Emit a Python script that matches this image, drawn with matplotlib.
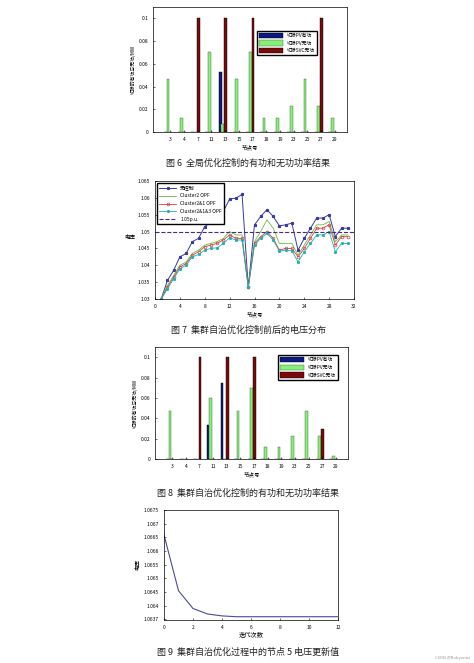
import matplotlib
matplotlib.use("Agg")
import matplotlib.pyplot as plt
import numpy as np

plt.rcParams['font.family'] = ['Noto Sans CJK SC', 'DejaVu Sans']
plt.rcParams['axes.unicode_minus'] = False

nodes_bar = ['3','4','7','11','13','15','17','18','19','23','25','27','29']
f6_pv_p = [0,0,0,0,0.053,0,0,0,0,0,0,0,0]
f6_pv_q = [0.047,0.012,0,0.07,0.007,0.047,0.07,0.012,0.012,0.023,0.047,0.023,0.012]
f6_svc = [0,0,0.1,0,0.1,0,0.1,0,0,0,0,0.1,0]
f8_pv_p = [0,0,0,0.033,0.075,0,0,0,0,0,0,0,0]
f8_pv_q = [0.047,0,0,0.06,0,0.047,0.07,0.012,0.012,0.023,0.047,0.023,0.003]
f8_svc = [0,0,0.1,0,0.1,0,0.1,0,0,0,0,0.029,0]
bar_labels = ['切除PV有功','切除PV无功','切除SVC无功']

v_nodes = list(range(1,32))
v_none = [1.03,1.0355,1.0385,1.0425,1.0435,1.047,1.048,1.0515,1.0527,1.053,1.056,1.0597,1.0599,1.061,1.0335,
          1.052,1.0545,1.0565,1.0545,1.0517,1.052,1.0525,1.0445,1.048,1.051,1.054,1.054,1.055,1.0485,1.051,1.051]
v_c2 = [1.03,1.034,1.037,1.040,1.041,1.0435,1.0445,1.046,1.0465,1.047,1.048,1.050,1.049,1.049,1.0335,
        1.047,1.050,1.0535,1.051,1.0465,1.0465,1.0465,1.043,1.046,1.049,1.052,1.052,1.053,1.047,1.049,1.049]
v_c21 = [1.03,1.0335,1.0365,1.0395,1.0405,1.043,1.044,1.0455,1.046,1.0465,1.0475,1.049,1.048,1.048,1.0335,
         1.0465,1.0485,1.050,1.048,1.0445,1.045,1.045,1.0425,1.045,1.048,1.051,1.051,1.052,1.046,1.0485,1.0485]
v_c213 = [1.03,1.033,1.036,1.039,1.040,1.0425,1.0432,1.0445,1.045,1.0452,1.0465,1.0482,1.0475,1.0475,1.0335,
          1.046,1.048,1.0495,1.0475,1.0442,1.0445,1.0443,1.041,1.044,1.0465,1.049,1.049,1.050,1.044,1.0465,1.0465]
v_labels = ['无控制','Cluster2 OPF','Cluster2&1 OPF','Cluster2&1&3 OPF','1.05p.u.']

iters = list(range(0,13))
v5 = [1.06659,1.06455,1.0639,1.0637,1.06363,1.0636,1.0636,1.0636,1.0636,1.0636,1.0636,1.0636,1.0636]

W, H = 474, 663
fig = plt.figure(figsize=(W/100, H/100), dpi=100)

def ax_at(l, t, r, b):
    return fig.add_axes([l/W, 1-b/H, (r-l)/W, (b-t)/H])

tfs = 3.5
def bars(ax, pp, pq, svc, legbox):
    x = np.arange(1, len(nodes_bar)+1)
    w = 0.2
    ax.bar(x-0.36, pp, w, color='#0a1a80', edgecolor='k', lw=0.3, label=bar_labels[0])
    ax.bar(x-0.17, pq, w, color='#88ee77', edgecolor='#336633', lw=0.3, label=bar_labels[1])
    ax.bar(x+0.04, svc, w, color='#7a0a0a', edgecolor='k', lw=0.3, label=bar_labels[2])
    ax.set_xticks(x, nodes_bar)
    ax.set_xlim(-0.27, 13.9)
    ax.set_ylim(0, 0.11)
    ax.set_yticks([0,0.02,0.04,0.06,0.08,0.1], ['0','0.02','0.04','0.06','0.08','0.1'])
    ax.tick_params(labelsize=tfs, length=1.5, width=0.4, direction='in')
    ax.set_xlabel('节点号', fontsize=4, labelpad=2)
    ax.set_ylabel('切除的有功与无功/MW', fontsize=3.5, labelpad=2)
    ax.legend(loc='upper right', bbox_to_anchor=legbox, fontsize=3.5, frameon=True, fancybox=False,
              edgecolor='k', handlelength=5, handleheight=1.3, borderpad=0.4, framealpha=1)
    for s in ax.spines.values(): s.set_linewidth(0.5)

ax1 = ax_at(153, 7, 347, 132)
bars(ax1, f6_pv_p, f6_pv_q, f6_svc, (0.86, 0.83))
ax3 = ax_at(155, 347, 348, 459)
bars(ax3, f8_pv_p, f8_pv_q, f8_svc, (0.96, 0.95))

ax2 = ax_at(155, 181, 354, 299)
ax2.plot(v_nodes, v_none, color='#3a3aa0', marker='*', ms=2, lw=0.7, label=v_labels[0])
ax2.plot(v_nodes, v_c2, color='#66bb44', lw=0.6, label=v_labels[1])
ax2.plot(v_nodes, v_c21, color='#d04040', marker='o', ms=2, mfc='none', mew=0.5, lw=0.6, label=v_labels[2])
ax2.plot(v_nodes, v_c213, color='#22b0b0', marker='*', ms=1.8, lw=0.6, label=v_labels[3])
ax2.axhline(1.05, color='#4a2a80', ls='--', lw=0.8, label=v_labels[4])
ax2.set_xlim(0, 32)
ax2.set_ylim(1.03, 1.065)
ax2.set_xticks(range(0, 33, 4))
ax2.set_yticks(np.arange(1.03, 1.0651, 0.005), ['1.03','1.035','1.04','1.045','1.05','1.055','1.06','1.065'])
ax2.tick_params(labelsize=tfs, length=1.5, width=0.4, direction='in')
ax2.set_xlabel('节点号', fontsize=4, labelpad=2)
ax2.set_ylabel('电压', fontsize=4, rotation=0, labelpad=6)
ax2.legend(loc='upper left', fontsize=3.5, frameon=True, fancybox=False, edgecolor='k',
           borderpad=0.4, handlelength=3.5, labelspacing=0.6, framealpha=1)
for s in ax2.spines.values(): s.set_linewidth(0.5)

ax4 = ax_at(164, 510, 338, 620)
ax4.plot(iters, v5, color='#4a4a9a', lw=0.8)
ax4.set_xlim(0, 12)
ax4.set_ylim(1.06348, 1.0675)
ax4.set_xticks(range(0, 13, 2))
yt = [1.0635, 1.064, 1.0645, 1.065, 1.0655, 1.066, 1.0665, 1.067, 1.0675]
ax4.set_yticks(yt, ['1.0637','1.064','1.0645','1.065','1.0655','1.066','1.0665','1.067','1.0675'])
ax4.tick_params(labelsize=tfs, length=1.5, width=0.4, direction='in')
ax4.set_xlabel('迭代次数', fontsize=4.5, labelpad=1)
ax4.set_ylabel('电压', fontsize=4, labelpad=3)
for s in ax4.spines.values(): s.set_linewidth(0.5)

caps = [(163, '图 6  全局优化控制的有功和无功功率结果'),
        (330, '图 7  集群自治优化控制前后的电压分布'),
        (493, '图 8  集群自治优化控制的有功和无功功率结果'),
        (652, '图 9  集群自治优化过程中的节点 5 电压更新值')]
for y, t in caps:
    fig.text(248/W, 1-y/H, t, ha='center', va='center', fontsize=6.5, color='#222222')

fig.text(470/W, 1-660/H, 'CSDN @Babyonnz', ha='right', va='bottom', fontsize=3, color='#999999')
fig.savefig('out.png', dpi=100, facecolor='white')
